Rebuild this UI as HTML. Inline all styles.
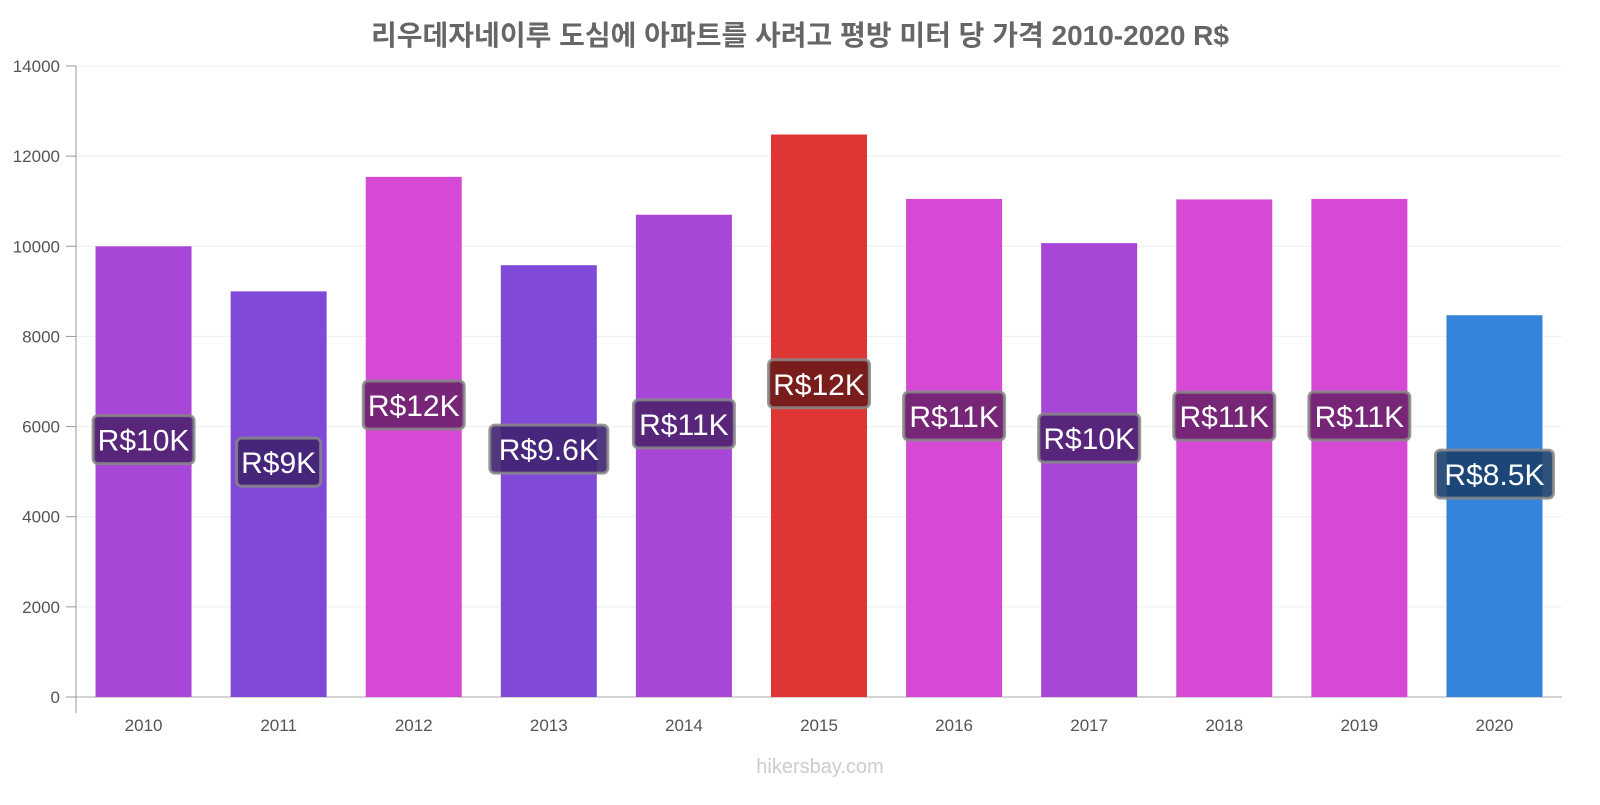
<!DOCTYPE html>
<html><head><meta charset="utf-8"><style>
body{margin:0;background:#fff;width:1600px;height:800px;overflow:hidden;font-family:"Liberation Sans","Noto Sans CJK KR",sans-serif}
</style></head><body>
<svg id="c" width="1600" height="800" xmlns="http://www.w3.org/2000/svg">
<text x="800" y="45" text-anchor="middle" font-size="28" font-weight="bold" fill="#666" font-family="Liberation Sans, Noto Sans CJK KR, sans-serif">리우데자네이루 도심에 아파트를 사려고 평방 미터 당 가격 2010-2020 R$</text>
<text x="820" y="773" text-anchor="middle" font-size="20" fill="#ccc">hikersbay.com</text>
</svg>
<script>
const years=["2010","2011","2012","2013","2014","2015","2016","2017","2018","2019","2020"];
const values=[10000,9000,11540,9580,10700,12480,11050,10070,11040,11050,8470];
const valueLabels=["R$10K","R$9K","R$12K","R$9.6K","R$11K","R$12K","R$11K","R$10K","R$11K","R$11K","R$8.5K"];
const yTicks=[0,2000,4000,6000,8000,10000,12000,14000];
const colorKeys=["p","v","m","v","p","r","m","p","m","m","b"];
const fills={p:"#a846d8",v:"#8049d8",m:"#d549d4",r:"#e03535",b:"#3584dc"};
const labelFills={p:"#4e2170",v:"#3e2270",m:"#6c216d",r:"#6e1a1a",b:"#1a3f6c"};
const svg=document.getElementById('c');
const NS="http://www.w3.org/2000/svg";
const x0=76,x1=1562,yB=697,yT=66,yMax=14000;
const slot=(x1-x0)/years.length;
const y=v=>yB-(v/yMax)*(yB-yT);
const xc=i=>x0+slot*(i+0.5);
function mk(t,a){const e=document.createElementNS(NS,t);for(const k in a)e.setAttribute(k,a[k]);svg.appendChild(e);return e;}
yTicks.forEach(t=>{
 const g=mk('line',{x1:x0,x2:x1,y1:y(t),y2:y(t),stroke:t===0?"#aaa":"#eee","stroke-width":1});
 
 
 const tk=mk('line',{x1:x0-10,x2:x0,y1:y(t),y2:y(t),stroke:"#999"});
 
 
 const l=mk('text',{x:x0-16,y:y(t)+6,"text-anchor":"end","font-size":17,fill:"#555"});
 l.textContent=t;
 
 
});
const ax=mk('line',{x1:x0,x2:x0,y1:yT,y2:yB+16,stroke:"#999"});


years.forEach((yr,i)=>{
 const c=xc(i),w=96,top=y(values[i]);
 const r=mk('rect',{x:c-w/2,y:top,width:w,height:yB-top,fill:fills[colorKeys[i]]});
 
 
 const xl=mk('text',{x:c,y:731,"text-anchor":"middle","font-size":17,fill:"#555"});
 xl.textContent=yr;
 
 
 const ly=(top+yB)/2-32;
 const tw=valueLabels[i].length*17+16;
 const b=mk('rect',{x:c-tw/2,y:ly-24,width:tw,height:48,rx:5,fill:labelFills[colorKeys[i]],stroke:"#888","stroke-width":3,"stroke-opacity":0.85,"fill-opacity":0.9});
 
 
 const t=mk('text',{x:c,y:ly+11,"text-anchor":"middle","font-size":30,fill:"#fff"});
 t.textContent=valueLabels[i];
 
 
});
</script>
</body></html>
